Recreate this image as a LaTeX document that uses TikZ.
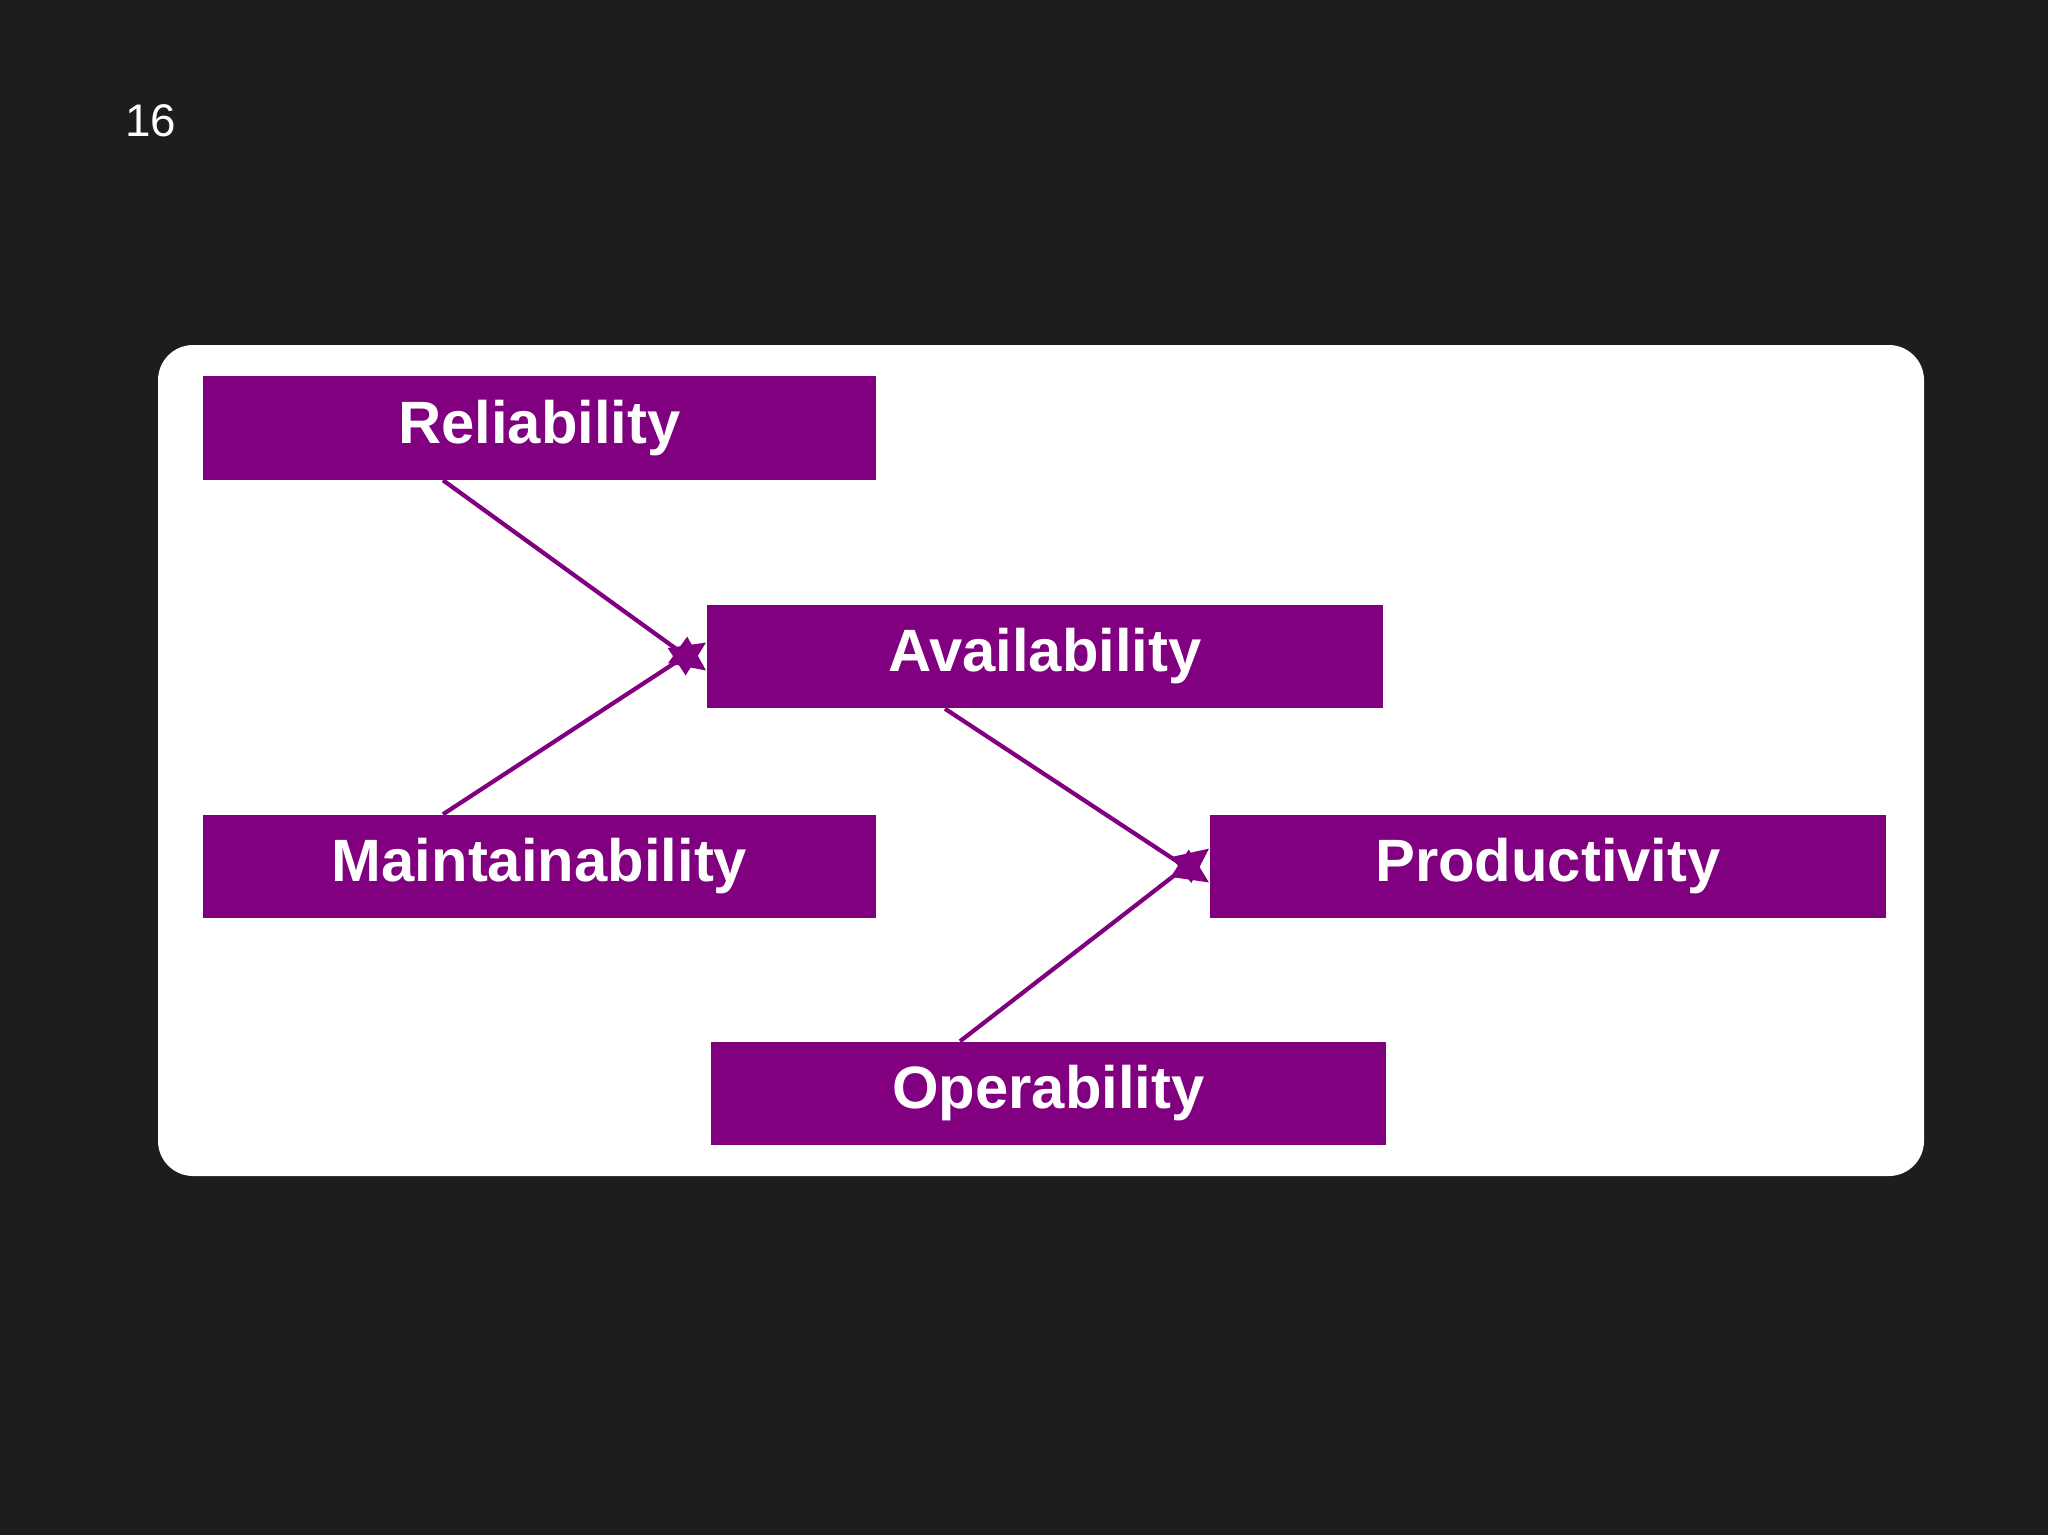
\documentclass[tikz,border=0pt]{standalone}
\usepackage{fontspec}
\setmainfont{Liberation Sans}
\usetikzlibrary{arrows.meta}
\definecolor{bg}{HTML}{1E1D1E}
\definecolor{pur}{HTML}{800080}
\tikzset{
  boxn/.style={fill=pur,text=white,font=\bfseries\fontsize{17}{20}\selectfont,inner sep=0pt,minimum width=6.73cm,minimum height=1.03cm},
  conn/.style={pur,line width=1.2pt,-{Triangle[length=10pt,width=9pt]}}
}
\begin{document}
\begin{tikzpicture}[x=0.01cm,y=-0.01cm]
\fill[bg] (0,0) rectangle (2048,1535);
\useasboundingbox (0,0) rectangle (2048,1535);
\fill[white,rounded corners=10pt] (158,345) rectangle (1924,1176);
\node[text=white,font=\fontsize{13}{16}\selectfont] (num) at (151,121) {16};
\node[boxn] (rel) at (539.5,428) {Reliability};
\node[boxn,minimum width=6.76cm] (ava) at (1045,656.5) {Availability};
\node[boxn] (mai) at (539.5,866.5) {Maintainability};
\node[boxn,minimum width=6.76cm] (pro) at (1548,866.5) {Productivity};
\node[boxn,minimum width=6.75cm] (ope) at (1048.5,1093.5) {Operability};
\coordinate (a1) at ([yshift=-0.14cm]ava.west);
\coordinate (a2) at ([yshift=0.14cm]ava.west);
\coordinate (p1) at ([yshift=-0.16cm]pro.west);
\coordinate (p2) at ([yshift=0.18cm]pro.west);
\draw[conn] (rel.south -| 443,0) -- (a1);
\draw[conn] (mai.north -| 443,0) -- (a2);
\draw[conn] (ava.south -| 945,0) -- (p1);
\draw[conn] (ope.north -| 960,0) -- (p2);
\end{tikzpicture}
\end{document}
